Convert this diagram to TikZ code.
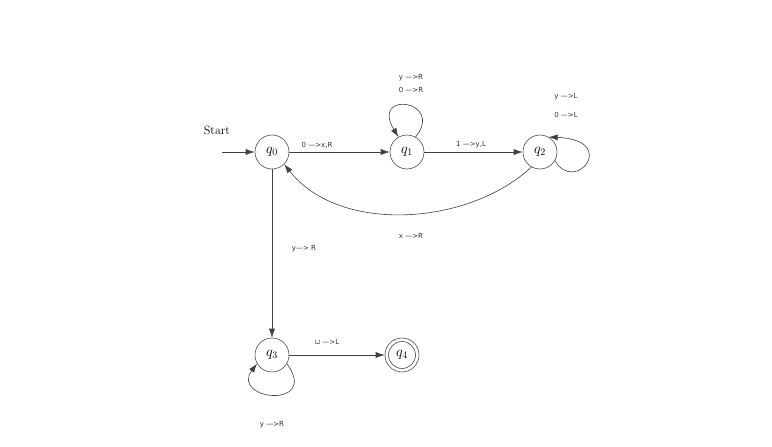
\documentclass[tikz,border=0pt]{standalone}
\usepackage{fontspec}
\newfontfamily\lab{DejaVu Sans}
\usetikzlibrary{arrows.meta}
\begin{document}
\begin{tikzpicture}[x=1pt,y=-1pt,
  st/.style={circle,draw=black!70,line width=0.6pt,minimum size=34pt,inner sep=0pt,font=\Large},
  tr/.style={draw=black!75,line width=0.6pt,-{Latex[length=9pt,width=6pt]}},
  lb/.style={font=\lab\fontsize{7}{8}\selectfont,text=black!80}]
\useasboundingbox (0,0) rectangle (772,447);
\node[st] (q0) at (272,152) {$q_0$};
\node[st] (q1) at (407,152) {$q_1$};
\node[st] (q2) at (540,152) {$q_2$};
\node[st] (q3) at (272,355) {$q_3$};
\node[st] (q4) at (402,355) {};
\node[circle,draw=black!70,line width=0.6pt,minimum size=27pt,inner sep=0pt,font=\Large] (q4i) at (402,355) {$q_4$};
\node[font=\large] (start) at (217,130) {Start};
\coordinate (in0) at (222,152);
\draw[tr] (in0) -- (q0);
\draw[tr] (q0) -- (q1);
\draw[tr] (q1) -- (q2);
\draw[tr] (q0) -- (q3);
\draw[tr] (q3) -- (q4);
\draw[tr] (q2.240) .. controls (470,225) and (340,235) .. (q0.-45);
\draw[tr] (q1.60) .. controls (445,100) and (370,90) .. (q1.120);
\draw[tr] (q2.-30) .. controls (575,195) and (620,140) .. (q2.60);
\draw[tr] (q3.-30) .. controls (320,410) and (230,400) .. (q3.210);
\node[lb] (l1) at (411,78) {y —>R};
\node[lb] (l2) at (411,90) {0 —>R};
\node[lb] (l3) at (566,97) {y —>L};
\node[lb] (l4) at (566,115) {0 —>L};
\node[lb] (l5) at (317,145) {0 —>x,R};
\node[lb] (l6) at (471,145) {1 —>y,L};
\node[lb] (l7) at (411,236) {x —>R};
\node[lb] (l8) at (304,249) {y—> R};
\node[lb] (l9) at (327,342) {⊔ —>L};
\node[lb] (l10) at (272,425) {y —>R};
\end{tikzpicture}
\end{document}
